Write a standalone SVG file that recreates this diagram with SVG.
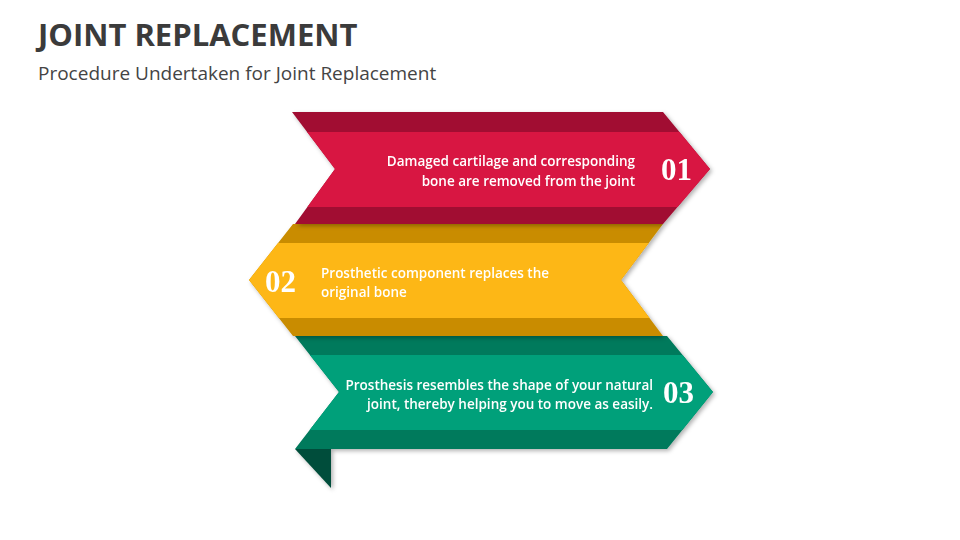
<svg xmlns="http://www.w3.org/2000/svg" width="960" height="540" viewBox="0 0 960 540">
<style>
.t{font-family:"Open Sans","Liberation Sans",sans-serif;font-size:13.5px;fill:#fff;font-weight:600}
.n{font-family:"Liberation Serif",serif;font-size:31px;font-weight:bold;fill:#fff}
</style>
<defs>
<clipPath id="c1"><path d="M292,112 L663,112 L710,169 L663,224 L295,224 L335,169 Z"/></clipPath>
<clipPath id="c2"><path d="M293,224 L663,224 L621,280 L663,336 L293,336 L249,280 Z"/></clipPath>
<clipPath id="c3"><path d="M295,336 L667,336 L713,392 L667,449 L295,449 L339,392 Z"/></clipPath>
<filter id="sh" x="-10%" y="-10%" width="120%" height="130%"><feDropShadow dx="2" dy="2" stdDeviation="2" flood-opacity="0.3"/></filter>
</defs>
<rect width="960" height="540" fill="#fff"/>
<text x="38" y="46" font-family="Open Sans, Liberation Sans, sans-serif" font-size="31" font-weight="bold" fill="#3b3b3b">JOINT REPLACEMENT</text>
<text x="38" y="80" font-family="Open Sans, Liberation Sans, sans-serif" font-size="19" fill="#444">Procedure Undertaken for Joint Replacement</text>
<g id="step3" filter="url(#sh)">
<polygon points="295,449 331,449 331,488" fill="#034D3A"/>
<g clip-path="url(#c3)"><rect x="240" y="336" width="480" height="113" fill="#067A5C"/><rect x="240" y="355" width="480" height="75" fill="#06A07A"/></g>
<text class="t" text-anchor="end"><tspan x="653" y="390">Prosthesis resembles the shape of your natural</tspan><tspan x="653" y="409">joint, thereby helping you to move as easily.</tspan></text>
<text class="n" x="663" y="403">03</text>
</g>
<g id="step2" filter="url(#sh)">
<g clip-path="url(#c2)"><rect x="240" y="224" width="480" height="112" fill="#C98C00"/><rect x="240" y="243" width="480" height="75" fill="#FDB714"/></g>
<text class="t"><tspan x="321" y="278">Prosthetic component replaces the</tspan><tspan x="321" y="297">original bone</tspan></text>
<text class="n" x="265" y="292">02</text>
</g>
<g id="step1" filter="url(#sh)">
<g clip-path="url(#c1)"><rect x="240" y="112" width="480" height="112" fill="#A10F32"/><rect x="240" y="132" width="480" height="75" fill="#D81843"/></g>
<text class="t" text-anchor="end"><tspan x="635" y="166">Damaged cartilage and corresponding</tspan><tspan x="635" y="186">bone are removed from the joint</tspan></text>
<text class="n" x="661" y="180">01</text>
</g>
<g id="connectors"/>
</svg>
